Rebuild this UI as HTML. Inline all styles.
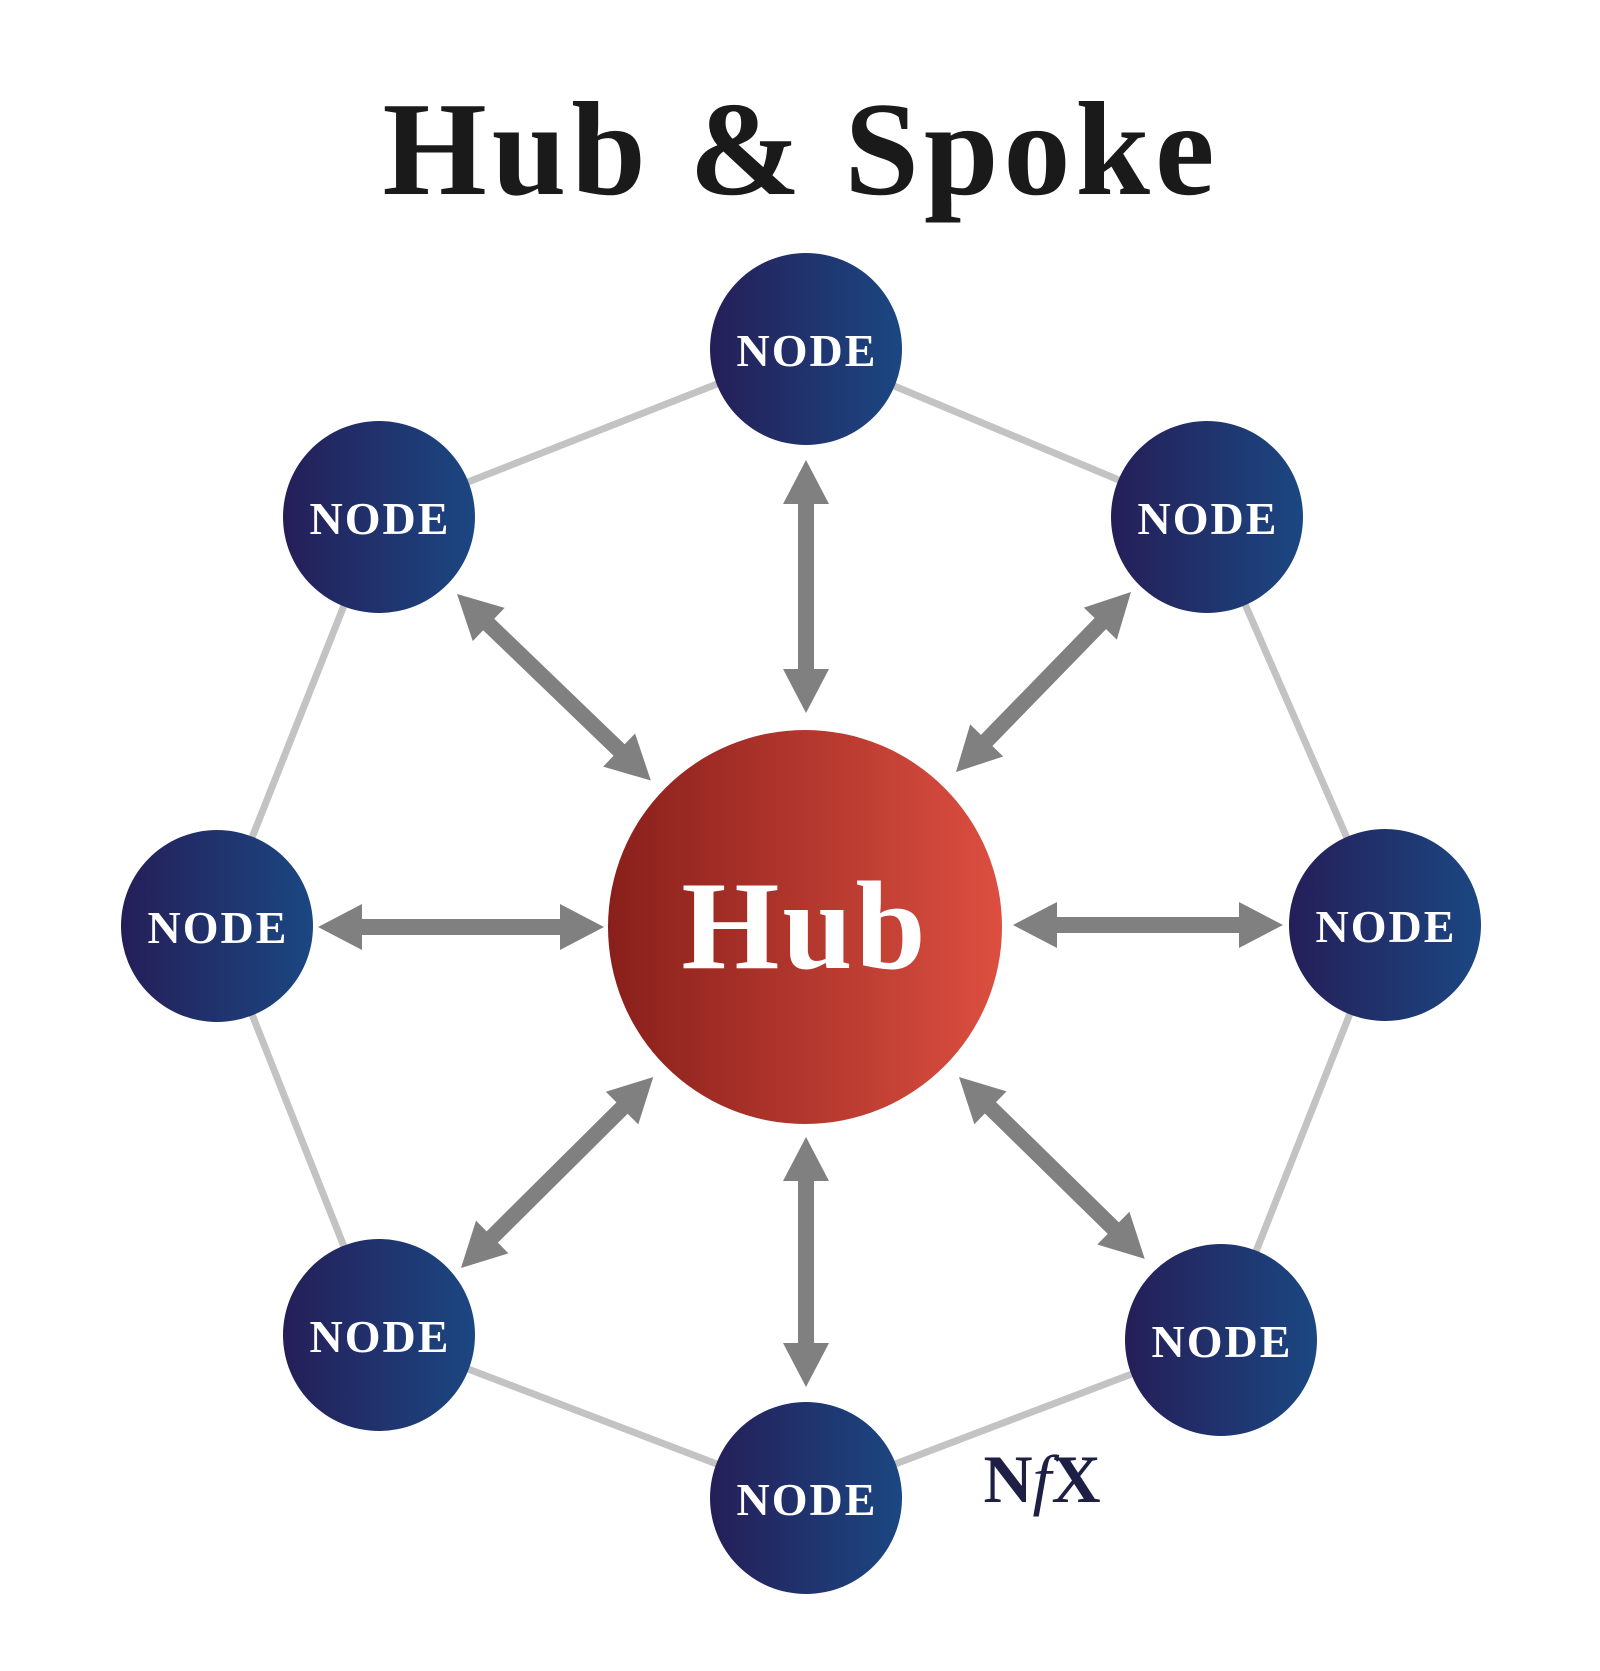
<!DOCTYPE html>
<html><head><meta charset="utf-8"><style>
html,body{margin:0;padding:0;background:#fff;}
svg{display:block}
</style></head><body>
<svg width="1600" height="1671" viewBox="0 0 1600 1671" xmlns="http://www.w3.org/2000/svg">
<defs>
<linearGradient id="ng" x1="0" x2="1" y1="0" y2="0"><stop offset="0" stop-color="#251e58"/><stop offset="1" stop-color="#1b4782"/></linearGradient>
<linearGradient id="hg" x1="0" x2="1" y1="0" y2="0"><stop offset="0" stop-color="#891f1b"/><stop offset="1" stop-color="#dc4f40"/></linearGradient>
</defs>
<rect width="1600" height="1671" fill="#fff"/>
<text x="801" y="194" text-anchor="middle" font-family="Liberation Serif, serif" font-weight="bold" font-size="134" fill="#1a1a1a" letter-spacing="5">Hub &amp; Spoke</text>
<polygon points="806,349 1207,517 1385,925 1221,1340 806,1498 379,1335 217,926 379,517" fill="none" stroke="#c3c3c3" stroke-width="7"/>
<g fill="#808080">
<polygon transform="translate(806,460) rotate(90)" points="0,0 44,-23 44,-8 209,-8 209,-23 253,0 209,23 209,8 44,8 44,23"/>
<polygon transform="translate(318,927)" points="0,0 44,-23 44,-8 242,-8 242,-23 286,0 242,23 242,8 44,8 44,23"/>
<polygon transform="translate(1013,925)" points="0,0 44,-23 44,-8 226,-8 226,-23 270,0 226,23 226,8 44,8 44,23"/>
<polygon transform="translate(806,1137) rotate(90)" points="0,0 44,-23 44,-8 206,-8 206,-23 250,0 206,23 206,8 44,8 44,23"/>
<polygon transform="translate(457,594) rotate(43.9)" points="0,0 44,-23 44,-8 225,-8 225,-23 269,0 225,23 225,8 44,8 44,23"/>
<polygon transform="translate(956,772) rotate(-45.8)" points="0,0 44,-23 44,-8 207,-8 207,-23 251,0 207,23 207,8 44,8 44,23"/>
<polygon transform="translate(461,1268) rotate(-44.8)" points="0,0 44,-23 44,-8 227,-8 227,-23 271,0 227,23 227,8 44,8 44,23"/>
<polygon transform="translate(959,1077) rotate(44.4)" points="0,0 44,-23 44,-8 216,-8 216,-23 260,0 216,23 216,8 44,8 44,23"/>
</g>
<circle cx="805" cy="927" r="197" fill="url(#hg)"/>
<text x="805" y="968" text-anchor="middle" font-family="Liberation Serif, serif" font-weight="bold" font-size="126" fill="#fff" letter-spacing="3">Hub</text>
<g fill="#fff" font-family="Liberation Serif, serif" font-weight="bold" font-size="46" text-anchor="middle" letter-spacing="2">
</g>
<g fill="url(#ng)">
<circle cx="806" cy="349" r="96"/><circle cx="379" cy="517" r="96"/><circle cx="1207" cy="517" r="96"/>
<circle cx="217" cy="926" r="96"/><circle cx="1385" cy="925" r="96"/>
<circle cx="379" cy="1335" r="96"/><circle cx="1221" cy="1340" r="96"/><circle cx="806" cy="1498" r="96"/>
</g>
<g fill="#fff" font-family="Liberation Serif, serif" font-weight="bold" font-size="46" text-anchor="middle" letter-spacing="2">
<text x="807" y="366">NODE</text><text x="380" y="534">NODE</text><text x="1208" y="534">NODE</text>
<text x="218" y="943">NODE</text><text x="1386" y="942">NODE</text>
<text x="380" y="1352">NODE</text><text x="1222" y="1357">NODE</text><text x="807" y="1515">NODE</text>
</g>
<text x="1042" y="1502" text-anchor="middle" font-family="Liberation Serif, serif" font-weight="bold" font-size="68" fill="#1e1f44">N<tspan font-style="italic" font-weight="normal">f</tspan>X</text>
</svg>
</body></html>
